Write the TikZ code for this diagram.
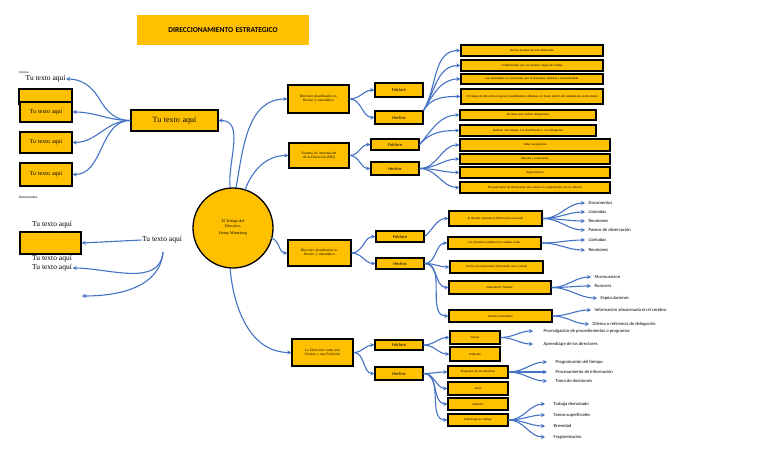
\documentclass[tikz,border=0pt]{standalone}
\usepackage{fontspec}
\setmainfont{Liberation Serif}
\setsansfont{Carlito}
\usetikzlibrary{arrows.meta}
\definecolor{gold}{HTML}{FFC000}
\definecolor{arrblue}{HTML}{4472C4}
\tikzset{
 box/.style={draw=black,line width=1.3pt,fill=gold,inner sep=0.5pt,align=center,font=\sffamily\fontsize{3}{3.6}\selectfont},
 lone/.style={box,font=\fontsize{3.6}{4.2}\selectfont},
 lbl/.style={box,font=\sffamily\fontsize{4.5}{5}\selectfont},
 arr/.style={draw=arrblue,line width=1.1pt,-{Stealth[length=4pt,width=4pt]}},
 leaf/.style={anchor=west,inner sep=0.5pt,font=\sffamily\fontsize{4.6}{5}\selectfont},
 tt/.style={inner sep=0.5pt,font=\fontsize{7.5}{8}\selectfont}
}
\newcommand{\bx}[7][]{\node[box,#1,minimum width={(#5-#3)*1pt},minimum height={(#6-#4)*1pt},text width={(#5-#3-4)*1pt}] (#2) at ({(#3+#5)/2},{(#4+#6)/2}) {#7};}
\begin{document}
\begin{tikzpicture}[x=1pt,y=-1pt]
\useasboundingbox[fill=white] (0,0) rectangle (768,471);
% title
\bx[draw=none,font=\sffamily\bfseries\fontsize{7.5}{8}\selectfont]{title}{137}{15}{309}{45}{DIRECCIONAMIENTO ESTRATEGICO}
% center
\node[circle,draw=black,line width=1.3pt,fill=gold,minimum size=80pt,align=center,font=\fontsize{4}{5}\selectfont] (c) at (233,228) {El Trabajo del\\Directivo,\\[2pt]Henry Mintzberg};
% left
\bx[font=\fontsize{8}{9}\selectfont]{L}{131}{110}{218}{131}{Tu texto aquí}
\node[anchor=west,inner sep=0,font=\sffamily\fontsize{3}{3}\selectfont] (fol) at (19,72) {Folclore};
\node[tt,anchor=west] (l0) at (25,79) {Tu texto aquí};
\bx{le}{19}{89}{72}{104}{}
\bx[font=\fontsize{6}{7}\selectfont]{l1}{20}{102}{72}{122}{Tu texto aquí}
\bx[font=\fontsize{6}{7}\selectfont]{l2}{20}{132}{72}{153}{Tu texto aquí}
\bx[font=\fontsize{6}{7}\selectfont]{l3}{20}{163}{72}{186}{Tu texto aquí}
\node[anchor=west,inner sep=0,font=\sffamily\fontsize{3.5}{4}\selectfont] (doc) at (19,197) {Documentos};
\coordinate (lh) at (125,122);
\draw[arr] (L.west) to[out=180,in=-60] (100,100) to[out=120,in=0] (l0.east);
\draw[arr] (L.west) to[out=180,in=0] (l1.east);
\draw[arr] (L.west) to[out=180,in=0] (l2.east);
\draw[arr] (L.west) to[out=180,in=0] (l3.east);
\node[tt] (t1) at (52,225) {Tu texto aquí};
\bx{lb}{20}{232}{81}{254}{}
\node[tt] (t2) at (52,259) {Tu texto aquí};
\node[tt] (t3) at (52,268) {Tu texto aquí};
\node[tt] (t4) at (162,240) {Tu texto aquí};
\coordinate (d1) at (82,296);
\draw[arr] (t4.west) -- (lb.east);
\draw[arr] (163,252) to[out=-95,in=0] (t3.east);
\draw[arr] (163,252) to[out=-95,in=0] (d1);
\draw[arr] (c.north) ++(-3,0) to[out=95,in=0] (L.east);
% level 1
\bx[lone]{b1}{288}{85}{349}{113}{Directivo planificador reflexivo y sistemático}
\bx[lone]{b2}{289}{143}{349}{168}{Sistema de información de la Dirección (SID)}
\bx[lone]{b3}{288}{240}{351}{266}{Directivo planificador reflexivo y sistemático}
\bx[lone]{b4}{292}{339}{353}{366}{La Dirección como una Ciencia y una Profesión}
\draw[arr] (236,188) to[out=80,in=180] (b1.west);
\draw[arr] (245,190) to[out=70,in=180] (b2.west);
\draw[arr] (271,238) to[out=-10,in=180] (b3.west);
\draw[arr] (230,268) to[out=-85,in=180] (b4.west);
% level 2
\bx[lbl]{f1}{375}{83}{423}{97}{Folclore}
\bx[lbl]{h1}{375}{111}{423}{124}{Hechos}
\bx[lbl]{f2}{371}{139}{419}{150}{Folclore}
\bx[lbl]{h2}{371}{162}{419}{175}{Hechos}
\bx[lbl]{f3}{376}{231}{424}{242}{Folclore}
\bx[lbl]{h3}{376}{258}{424}{269}{Hechos}
\bx[lbl]{f4}{375}{340}{423}{350}{Folclore}
\bx[lbl]{h4}{375}{367}{423}{380}{Hechos}
\foreach \p/\f/\h in {b1/f1/h1,b2/f2/h2,b3/f3/h3,b4/f4/h4}{
 \draw[arr] (\p.east) to[out=0,in=180] (\f.west);
 \draw[arr] (\p.east) to[out=0,in=180] (\h.west);}
% level 3 B1
\bx{a1}{461}{45}{603}{56}{No hay pruebas de esta afirmación}
\bx{a2}{461}{60}{603}{71}{Condicionados por sus propios cargos de trabajo}
\bx{a3}{461}{74}{603}{84}{Sus actividades se caracterizan por la brevedad, variedad y discontinuidad}
\bx{a4}{461}{89}{603}{104}{El trabajo de dirección no genera planificadores reflexivos, lo hacen dentro del contexto de acción diaria}
\foreach \n in {a1,a2,a3,a4}{\draw[arr] (h1.north east) to[out=60,in=180] (\n.west);}
% B2
\bx{s1}{460}{110}{596}{120}{No tiene que realizar obligaciones}
\bx{s2}{460}{125}{596}{136}{Dedican más tiempo a la planificación y a la delegación}
\bx{s3}{460}{139}{610}{151}{Tratar excepciones}
\bx{s4}{460}{154}{610}{164}{Rituales y ceremonias}
\bx{s5}{460}{167}{610}{178}{Negociaciones}
\bx{s6}{460}{182}{610}{193}{Procesamiento de información que enlaza a la organización con su entorno}
\foreach \n in {s1,s2}{\draw[arr] (f2.east) to[out=50,in=180] (\n.west);}
\foreach \n in {s3,s4,s5,s6}{\draw[arr] (h2.east) to[out=0,in=180] (\n.west);}
% B3
\bx{r1}{449}{211}{542}{226}{El director necesita la información resumida}
\bx{r2}{448}{237}{541}{249}{Los directivos prefieren los medios orales}
\bx{r3}{450}{261}{543}{273}{Correo no proporciona información viva o actual}
\bx{r4}{449}{281}{551}{294}{Información “blanda”}
\bx{r5}{449}{310}{552}{322}{Sistema informático}
\draw[arr] (f3.east) to[out=40,in=180] (r1.west);
\foreach \n in {r2,r3,r4,r5}{\draw[arr] (h3.east) to[out=0,in=180] (\n.west);}
\node[leaf] (p1) at (588,203) {Documentos};
\node[leaf] (p2) at (588,212) {Llamadas};
\node[leaf] (p3) at (588,221) {Reuniones};
\node[leaf] (p4) at (588,230) {Paseos de observación};
\node[leaf] (p5) at (588,240) {Llamadas};
\node[leaf] (p6) at (588,250) {Reuniones};
\node[leaf] (p7) at (594,277) {Murmuracion};
\node[leaf] (p8) at (594,286) {Rumores};
\node[leaf] (p9) at (600,298) {Especulaciones};
\node[leaf] (p10) at (594,310) {Información almacenada en el cerebro};
\node[leaf] (p11) at (592,324) {Dilema o reticencia de delegación};
\foreach \n in {p1,p2,p3,p4}{\draw[arr] (r1.east) to[out=0,in=180] ([xshift=-3pt]\n.west);}
\foreach \n in {p5,p6}{\draw[arr] (r2.east) to[out=0,in=180] ([xshift=-3pt]\n.west);}
\foreach \n in {p7,p8,p9}{\draw[arr] (r4.east) to[out=0,in=180] ([xshift=-3pt]\n.west);}
\foreach \n in {p10,p11}{\draw[arr] (r5.east) to[out=0,in=180] ([xshift=-3pt]\n.west);}
% B4
\bx{q1}{450}{331}{500}{344}{Ciencia}
\bx{q2}{450}{347}{500}{361}{Profesión}
\bx{q3}{448}{366}{508}{378}{Programas de los directivos}
\bx{q4}{448}{382}{508}{395}{Juicio}
\bx{q5}{448}{398}{508}{410}{Intuición}
\bx{q6}{448}{414}{508}{426}{Sobrecarga de Trabajo}
\foreach \n in {q1,q2}{\draw[arr] (f4.east) to[out=0,in=180] (\n.west);}
\foreach \n in {q3,q4,q5,q6}{\draw[arr] (h4.east) to[out=0,in=180] (\n.west);}
\node[leaf] (m1) at (543,331) {Promulgación de procedimientos o programas};
\node[leaf] (m2) at (543,344) {Aprendizaje de los directores};
\node[leaf] (m3) at (555,362) {Programación del tiempo};
\node[leaf] (m4) at (555,372) {Procesamiento de información};
\node[leaf] (m5) at (555,381) {Toma de decisiones};
\node[leaf] (m6) at (553,404) {Trabaja demasiado};
\node[leaf] (m7) at (553,415) {Tareas superficiales};
\node[leaf] (m8) at (553,426) {Brevedad};
\node[leaf] (m9) at (553,437) {Fragmentación};
\foreach \n in {m1,m2}{\draw[arr] (q1.east) to[out=0,in=180] ([xshift=-10pt]\n.west);}
\foreach \n in {m3,m4,m5}{\draw[arr] (q3.east) to[out=0,in=180] ([xshift=-8pt]\n.west);}
\foreach \n in {m6,m7,m8,m9}{\draw[arr] (q6.east) to[out=0,in=180] ([xshift=-8pt]\n.west);}
\end{tikzpicture}
\end{document}
